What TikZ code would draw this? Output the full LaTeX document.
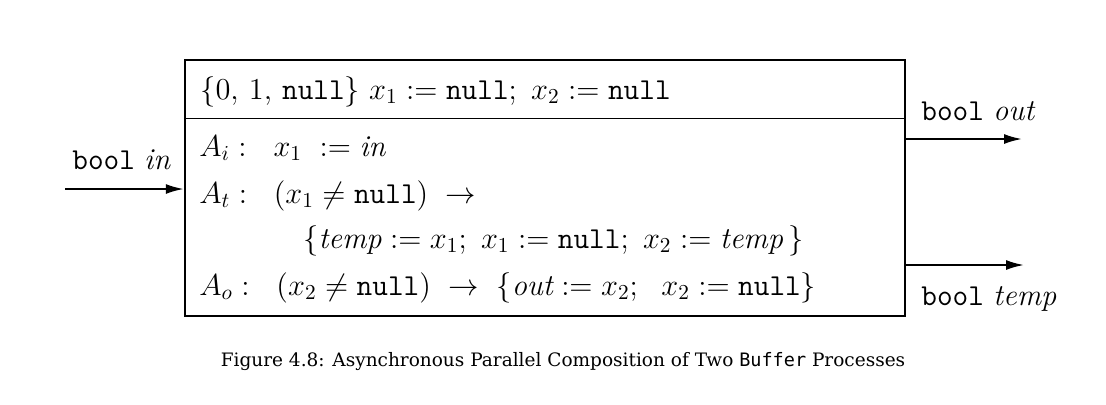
\RequirePackage{fix-cm}
\documentclass[tikz,border=0pt]{standalone}
\usepackage{fontspec}
\newfontfamily\capfont{DejaVu Serif}
\newfontfamily\capmono{DejaVu Sans Mono}
\usetikzlibrary{positioning,arrows.meta}

\tikzset{
  proc/.style={draw, line width=1.2pt, minimum width=360pt, minimum height=128pt, inner sep=0pt},
  stmt/.style={anchor=base west, inner sep=0pt, font=\fontsize{15.2}{17}\selectfont},
  chan/.style={->, >={Latex[length=9pt,width=5pt]}, line width=1pt},
  chanlabel/.style={anchor=base west, inner sep=0pt, font=\fontsize{15.2}{17}\selectfont},
}

\begin{document}
\begin{tikzpicture}[x=0.5pt, y=-0.5pt]
\useasboundingbox (0,0) rectangle (1106,404);
% process box
\node[proc] (buf) at (545,188) {};
\draw[line width=0.5pt] (buf.west |- 0,118) -- (buf.east |- 0,118);
\node[stmt] (init) at (200,99) {$\{0,\,1,\,\mathtt{null}\}\ x_1:=\mathtt{null};\ x_2:=\mathtt{null}$};
\node[stmt] (ai) at (199,156) {$A_i:\ \ x_1\ :=\mathit{in}$};
\node[stmt] (at) at (199,203) {$A_t:\ \ (x_1\neq\mathtt{null})\ \rightarrow$};
\node[stmt] (atb) at (303,248) {$\{\mathit{temp}:=x_1;\ x_1:=\mathtt{null};\ x_2:=\mathit{temp}\,\}$};
\node[stmt] (ao) at (199,295) {$A_o:\ \ (x_2\neq\mathtt{null})\ \rightarrow\ \{\mathit{out}:=x_2;\ \ x_2:=\mathtt{null}\}$};

% channels
\coordinate (inL) at (65,189);
\coordinate (outR) at (1022,139);
\coordinate (tempR) at (1024,265);
\draw[chan] (inL) -- (inL -| buf.west);
\draw[chan] (outR -| buf.east) -- (outR);
\draw[chan] (tempR -| buf.east) -- (tempR);
\node[chanlabel] (inlab) at (72,169) {\texttt{bool} $\mathit{in}$};
\node[chanlabel] (outlab) at (921,120) {\texttt{bool} $\mathit{out}$};
\node[chanlabel] (templab) at (921,305) {\texttt{bool} $\mathit{temp}$};

% caption
\node[anchor=base, inner sep=0pt, font=\capfont\fontsize{9.25}{11}\selectfont] (cap) at (563,366)
  {Figure 4.8: Asynchronous Parallel Composition of Two {\capmono Buffer} Processes};
\end{tikzpicture}
\end{document}
